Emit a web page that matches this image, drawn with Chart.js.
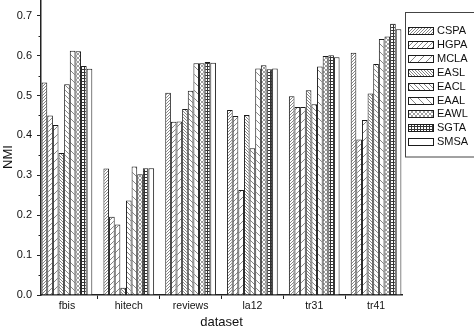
<!DOCTYPE html>
<html>
<head>
<meta charset="utf-8">
<script src="https://cdn.jsdelivr.net/npm/chart.js@4/dist/chart.umd.min.js"></script>
<style>
  html, body { margin: 0; padding: 0; background: #fff; }
  #wrap { width: 474px; height: 330px; }
</style>
</head>
<body>
<div id="wrap"><canvas id="nmiChart" width="474" height="330"></canvas></div>
<script>
/*********************************************
 *  DATA
 *********************************************/
const datasetNames = ["fbis", "hitech", "reviews", "la12", "tr31", "tr41"];
const methodNames = ["CSPA", "HGPA", "MCLA", "EASL", "EACL", "EAAL", "EAWL", "SGTA", "SMSA"];

const CSPA = [0.533, 0.317, 0.507, 0.464, 0.498, 0.607];
const HGPA = [0.450, 0.196, 0.434, 0.449, 0.471, 0.390];
const MCLA = [0.426, 0.177, 0.435, 0.263, 0.471, 0.439];
const EASL = [0.356, 0.018, 0.466, 0.451, 0.513, 0.505];
const EACL = [0.528, 0.237, 0.512, 0.368, 0.478, 0.579];
const EAAL = [0.612, 0.322, 0.581, 0.568, 0.573, 0.642];
const EAWL = [0.611, 0.303, 0.581, 0.576, 0.599, 0.648];
const SGTA = [0.574, 0.318, 0.584, 0.566, 0.601, 0.680];
const SMSA = [0.567, 0.318, 0.582, 0.568, 0.596, 0.666];

const yTicks = [0.0, 0.1, 0.2, 0.3, 0.4, 0.5, 0.6, 0.7];
const yMinorTicks = [0.05, 0.15, 0.25, 0.35, 0.45, 0.55, 0.65];

const FONT = "'Liberation Sans', Arial, sans-serif";

/*********************************************
 *  HATCH PATTERNS (Origin style fills)
 *********************************************/
function hatch(kind, s, color, lw) {
  const c = document.createElement("canvas");
  c.width = s;
  c.height = s;
  const g = c.getContext("2d");
  g.fillStyle = "#fff";
  g.fillRect(0, 0, s, s);
  if (kind === "none") return g.createPattern(c, "repeat");

  g.strokeStyle = color;
  g.lineWidth = lw || 0.8;
  g.beginPath();
  if (kind === "fwd" || kind === "cross") {
    g.moveTo(-1, s + 1); g.lineTo(s + 1, -1);
    g.moveTo(-1, 1); g.lineTo(1, -1);
    g.moveTo(s - 1, s + 1); g.lineTo(s + 1, s - 1);
  }
  if (kind === "back" || kind === "cross") {
    g.moveTo(-1, -1); g.lineTo(s + 1, s + 1);
    g.moveTo(s - 1, -1); g.lineTo(s + 1, 1);
    g.moveTo(-1, s - 1); g.lineTo(1, s + 1);
  }
  if (kind === "grid") {
    g.moveTo(0.5, 0); g.lineTo(0.5, s);
    g.moveTo(0, 0.5); g.lineTo(s, 0.5);
  }
  g.stroke();
  return g.createPattern(c, "repeat");
}

const fills = [
  hatch("fwd", 3, "#666", 0.8),   // CSPA
  hatch("fwd", 5, "#666", 0.8),   // HGPA
  hatch("fwd", 8, "#666", 0.8),   // MCLA
  hatch("back", 3, "#666", 0.8),  // EASL
  hatch("back", 5, "#666", 0.8),  // EACL
  hatch("back", 8, "#666", 0.8),  // EAAL
  hatch("cross", 4, "#777", 0.7), // EAWL
  hatch("grid", 3, "#333", 1),    // SGTA
  hatch("none", 4),               // SMSA
];

const seriesValues = [CSPA, HGPA, MCLA, EASL, EACL, EAAL, EAWL, SGTA, SMSA];

const datasets = methodNames.map((name, k) => ({
  label: name,
  data: seriesValues[k].map((v, i) => ({ x: i, y: v })),
  backgroundColor: fills[k],
  borderColor: "#1a1a1a",
  borderWidth: 1,
  categoryPercentage: 0.82,
  barPercentage: 1.0,
}));

/*********************************************
 *  EXTRA DRAWING: minor ticks, y title, legend
 *********************************************/
const originExtras = {
  id: "originExtras",
  afterDraw(chart) {
    const ctx = chart.ctx;
    const area = chart.chartArea;
    const yScale = chart.scales.y;

    // minor ticks on the y axis
    ctx.save();
    ctx.strokeStyle = "#222";
    ctx.lineWidth = 1;
    ctx.beginPath();
    yMinorTicks.forEach((v) => {
      const py = Math.round(yScale.getPixelForValue(v)) + 0.5;
      ctx.moveTo(area.left - 2.5, py);
      ctx.lineTo(area.left, py);
    });
    ctx.stroke();

    // y axis title (sits a bit below the middle in the original)
    ctx.save();
    ctx.translate(8, 157);
    ctx.rotate(-Math.PI / 2);
    ctx.font = "13px " + FONT;
    ctx.fillStyle = "#111";
    ctx.textAlign = "center";
    ctx.textBaseline = "middle";
    ctx.fillText("NMI", 0, 0);
    ctx.restore();

    // legend box
    ctx.strokeStyle = "#444";
    ctx.lineWidth = 1;
    ctx.strokeRect(405.5, 12.5, 80, 144.5);

    ctx.font = "11px " + FONT;
    ctx.textBaseline = "middle";
    ctx.textAlign = "left";
    chart.data.datasets.forEach((ds, i) => {
      const cy = 30.5 + i * 13.9;
      const top = Math.round(cy - 3.5) + 0.5;
      ctx.fillStyle = ds.backgroundColor;
      ctx.fillRect(408.5, top, 25, 7);
      ctx.strokeStyle = "#1a1a1a";
      ctx.strokeRect(408.5, top, 25, 7);
      ctx.fillStyle = "#111";
      ctx.fillText(ds.label, 437, cy + 0.5);
    });
    ctx.restore();
  },
};

/*********************************************
 *  CHART
 *********************************************/
const nmiChart = new Chart(document.getElementById("nmiChart").getContext("2d"), {
  type: "bar",
  data: { datasets },
  options: {
    responsive: false,
    animation: false,
    layout: { padding: { top: 1, right: 72, left: 0, bottom: 0 } },
    plugins: {
      legend: { display: false },
      tooltip: { enabled: false },
    },
    scales: {
      x: {
        type: "linear",
        min: -0.42,
        max: 5.42,
        offset: false,
        border: { display: true, color: "#222", width: 1.5 },
        grid: {
          display: true,
          offset: true,
          drawOnChartArea: false,
          drawTicks: true,
          tickLength: 4,
          color: "#222",
        },
        afterBuildTicks: (scale) => {
          scale.ticks = datasetNames.map((_, i) => ({ value: i }));
        },
        afterFit: (scale) => {
          scale.height = 35;
          scale.paddingLeft = 0;
          scale.paddingRight = 0;
        },
        ticks: {
          autoSkip: false,
          maxRotation: 0,
          padding: 1,
          color: "#111",
          font: { family: FONT, size: 10.5 },
          callback: (v) => datasetNames[v],
        },
        title: {
          display: true,
          text: "dataset",
          color: "#111",
          padding: 0,
          font: { family: FONT, size: 13 },
        },
      },
      y: {
        min: 0,
        max: 0.737,
        border: { display: true, color: "#222", width: 1.5 },
        grid: {
          display: true,
          drawOnChartArea: false,
          drawTicks: true,
          tickLength: 4,
          color: "#222",
        },
        afterBuildTicks: (scale) => {
          scale.ticks = yTicks.map((v) => ({ value: v }));
        },
        afterFit: (scale) => {
          scale.width = 41;
          scale.paddingTop = 0;
          scale.paddingBottom = 0;
        },
        ticks: {
          padding: 5,
          color: "#111",
          font: { family: FONT, size: 11 },
          callback: (v) => Number(v).toFixed(1),
        },
      },
    },
  },
  plugins: [originExtras],
});
</script>
</body>
</html>
